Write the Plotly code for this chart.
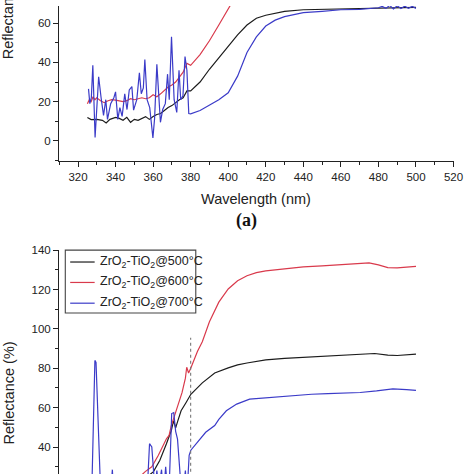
import plotly.graph_objects as go

# ---------------- Panel (a) data ----------------
a_black_x = [325, 327, 330, 333, 335, 337, 340, 342, 344, 346, 348, 350, 352, 354, 356, 358, 360,
             362, 364, 366, 368, 370, 372, 374, 376, 378, 380, 385, 390, 395, 400, 405, 410, 415,
             420, 425, 430, 440, 450, 460, 470, 480, 490, 500]
a_black_y = [12, 10.9, 11, 10.5, 9.2, 11, 12, 11.5, 10.5, 12, 9.5, 11, 10.5, 11.5, 12.4, 11, 12.5,
             13.5, 14, 15.5, 17, 18, 19.5, 21, 22, 25.5, 25.5, 30, 36.5, 42.5, 48.5, 54, 59, 62.5,
             64, 65, 66, 66.8, 67, 67.2, 67.3, 67.8, 68, 68]

a_red_x = [325, 326, 327, 328, 329, 330, 332, 334, 336, 338, 340, 342, 344, 346, 348, 350, 352, 354,
           356, 358, 360, 362, 364, 366, 368, 370, 372, 374, 376, 378, 380, 385, 390, 395, 400, 405,
           410, 420, 440, 460, 480, 500]
a_red_y = [19, 21, 20, 22.5, 21, 22, 20.5, 19.5, 20.5, 21, 20.8, 20.5, 20, 20.5, 21.5, 21, 21.5, 22,
           21.5, 22, 23.5, 22.5, 24, 26, 27.5, 28.5, 30, 32.5, 35, 39.5, 38.5, 44, 51, 59, 67.5, 76,
           85, 100, 115, 118, 119, 118]

a_blue_x = [325.6, 326.3, 327.1, 327.9, 329.1, 331.0, 332.3, 333.6, 334.8, 335.7, 337.4, 339.1, 340.0,
            341.2, 342.3, 343.5, 344.9, 346.1, 347.3, 348.7, 349.6, 351.3, 352.7, 353.7, 354.8, 355.6,
            356.8, 358.2, 359.9, 360.8, 362.0, 363.9, 365.1, 366.5, 367.7, 368.6, 369.8, 371.2, 372.6,
            373.8, 374.7, 375.9, 377.0, 378.0, 379.0, 380, 385, 390, 395, 400, 405, 410, 415, 420,
            425, 430, 435, 440, 450, 460, 470, 480, 482, 484, 486, 488, 490, 492, 494, 496, 498, 500]
a_blue_y = [26.5, 19, 22, 38.5, 1.8, 32.7, 22, 13, 21, 11, 19, 22, 25,
            11, 17, 12.5, 24, 16, 26, 27.7, 15.7, 21, 34.7, 24, 27, 41.5,
            21, 17, 1.5, 11.5, 39, 9.5, 16, 19, 34, 21, 53, 21, 14.5,
            36, 21, 23, 43, 36, 14, 13.8, 15.5, 18.4, 21, 24.5, 33, 45, 53, 58.5,
            61.5, 63.3, 64.3, 65.3, 66, 66.8, 67, 67.8, 68.5, 67.5, 69, 67.2, 68.8, 67.4, 68.6, 67.5, 68.5, 67.5]

# ---------------- Panel (b) data ----------------
b_black_x = [325, 330, 335, 340, 345, 350, 355, 357, 360.2, 363.6, 367.1, 369.7, 370.9, 372, 373.2,
             374.9, 377.5, 380.1, 386.2, 392.8, 400, 405, 410, 415, 420, 430, 440, 450, 460, 470,
             478, 485, 490, 500]
b_black_y = [18, 19, 18, 19, 20, 21, 23, 25, 27.5, 33.3, 41.7, 48.4, 53.4, 49.7, 53.4,
             58.4, 62.5, 66.8, 72.6, 77.6, 80.2, 81.7, 82.7, 83.6, 84.3, 85, 85.5, 86, 86.4, 87,
             87.5, 86.7, 86.5, 87.2]

b_red_x = [325, 330, 335, 340, 345, 350, 353, 355.8, 359.3, 362.8, 367.1, 368.5, 369.7, 371.4, 374,
           375.4, 377.2, 377.9, 378.9, 380.1, 383.6, 386.2, 390, 395, 400, 405, 410, 415, 420, 430,
           440, 450, 460, 470, 475, 480, 485, 490, 495, 500]
b_red_y = [20, 21, 20, 21, 22, 23, 25, 27.5, 30, 35.8, 44.2, 45.9, 50.9, 55.9, 64.3,
           67.6, 75, 80.5, 77.6, 80.1, 88.5, 93.5, 103.6, 113.6, 120.3, 124.5, 127, 128.6, 129.5, 130.6,
           131.5, 132, 132.5, 133.3, 133.5, 132.5, 131.1, 131, 131.5, 131.8]

b_blue_x = [325, 326.5, 327.5, 328.3, 329.0, 329.6, 330.3, 331, 331.8, 333, 335, 337, 338.3, 339, 342,
            345, 348, 350, 352, 354, 356, 357.3, 358.1, 359.3, 360.2, 361, 362, 363, 364.5, 365.5,
            366.7, 367.5, 368.8, 369.9, 371, 372, 373, 374, 375, 376.5, 377.2, 378, 378.9, 379.2,
            380.1, 384.5, 388, 392.8, 395, 399, 404.5, 411.4, 418, 425, 435.6, 444.4, 453, 461.7,
            470.3, 479, 487.7, 495, 500]
b_blue_y = [15, 18, 24, 60, 84, 83, 62, 45, 24, 15, 18, 12, 28.5, 16, 20,
            14, 22, 15, 20, 18, 24, 26, 41.7, 40, 27, 18, 28, 19, 28.5, 15,
            30, 20, 26, 57, 57.5, 48, 44, 26, 18, 22, 28, 15, 27.5, 35.8,
            38.4, 43.4, 47.5, 50.9, 54, 58.4, 61.8, 64.3, 64.8, 65.5, 66, 66.8, 67.1, 67.3,
            67.7, 68.5, 69.5, 69.2, 68.8]

x_ticks = [320, 340, 360, 380, 400, 420, 440, 460, 480, 500, 520]
legend_labels = ["ZrO<sub>2</sub>-TiO<sub>2</sub>@500°C",
                 "ZrO<sub>2</sub>-TiO<sub>2</sub>@600°C",
                 "ZrO<sub>2</sub>-TiO<sub>2</sub>@700°C"]
cutoff_nm = 380
cutoff_top = 95.5

# ---------------- styling ----------------
W, H = 474, 474
C_BLACK, C_RED, C_BLUE = "#1c1c1c", "#d93a4c", "#3b3bc8"
FONT = "Liberation Sans, Arial, sans-serif"
LW = 1.2

def px_x(p):
    return p / W

def px_y(p):
    return 1 - p / H

fig = go.Figure()
for xs, ys, c in [(a_black_x, a_black_y, C_BLACK), (a_red_x, a_red_y, C_RED), (a_blue_x, a_blue_y, C_BLUE)]:
    fig.add_trace(go.Scatter(x=xs, y=ys, mode="lines", line=dict(color=c, width=LW),
                             xaxis="x", yaxis="y", showlegend=False))
for xs, ys, c in [(b_black_x, b_black_y, C_BLACK), (b_red_x, b_red_y, C_RED), (b_blue_x, b_blue_y, C_BLUE)]:
    fig.add_trace(go.Scatter(x=xs, y=ys, mode="lines", line=dict(color=c, width=LW),
                             xaxis="x2", yaxis="y2", showlegend=False))

xdom = [px_x(60.5), px_x(463.3)]
axis_common = dict(showline=True, linecolor="#222", linewidth=1.3, ticks="outside", ticklen=5,
                   tickwidth=1.2, tickcolor="#222", showgrid=False, zeroline=False,
                   tickfont=dict(family=FONT, size=11.5, color="#222"))

fig.update_layout(
    width=W, height=H, margin=dict(l=0, r=0, t=0, b=0),
    paper_bgcolor="white", plot_bgcolor="white", showlegend=False,
    xaxis=dict(domain=xdom, range=[310, 520], anchor="y", tickmode="array", tickvals=x_ticks,
               minor=dict(dtick=10, tick0=310, ticklen=3, ticks="outside", tickcolor="#222", tickwidth=1.1),
               **axis_common),
    yaxis=dict(domain=[px_y(156.6), 1], range=[-10, 68.7], anchor="x", tick0=0, dtick=20,
               minor=dict(dtick=10, tick0=0, ticklen=3, ticks="outside", tickcolor="#222", tickwidth=1.1),
               **axis_common),
    xaxis2=dict(domain=xdom, range=[310, 520], anchor="y2", visible=False),
    yaxis2=dict(domain=[0, px_y(247.3)], range=[26.3, 140], anchor="x2", tick0=0, dtick=20,
                minor=dict(dtick=10, tick0=0, ticklen=3, ticks="outside", tickcolor="#222", tickwidth=1.1),
                **axis_common),
)

annotations = [
    dict(text="Wavelength (nm)", x=px_x(262), y=px_y(195), xref="paper", yref="paper",
         showarrow=False, font=dict(family=FONT, size=14.5, color="#222"), xanchor="center", yanchor="middle"),
    dict(text="<b>(a)</b>", x=px_x(252), y=px_y(217), xref="paper", yref="paper",
         showarrow=False, font=dict(family="Liberation Serif, Times New Roman, serif", size=18, color="#111"),
         xanchor="center", yanchor="middle"),
    dict(text="Reflectance (%)", x=px_x(9), y=px_y(391.7), xref="paper", yref="paper", textangle=-90,
         showarrow=False, font=dict(family=FONT, size=14.5, color="#222"), xanchor="center", yanchor="middle"),
    dict(text="Reflectance (%)", x=px_x(9), y=px_y(1.5), xref="paper", yref="paper", textangle=-90,
         showarrow=False, font=dict(family=FONT, size=14.5, color="#222"), xanchor="center", yanchor="middle"),
]

shapes = [
    dict(type="line", xref="x2", yref="y2", x0=cutoff_nm, x1=cutoff_nm, y0=0, y1=cutoff_top,
         line=dict(color="#777", width=1.1, dash="dot")),
    dict(type="rect", xref="paper", yref="paper", x0=px_x(66.7), x1=px_x(200), y0=px_y(311), y1=px_y(247.3),
         line=dict(color="#444", width=1.1), fillcolor="white", layer="above"),
]
row_y = [259.3, 280, 301]
for lbl, c, ry in zip(legend_labels, [C_BLACK, C_RED, C_BLUE], row_y):
    shapes.append(dict(type="line", xref="paper", yref="paper", x0=px_x(71.7), x1=px_x(96.7),
                       y0=px_y(ry), y1=px_y(ry), line=dict(color=c, width=LW), layer="above"))
    annotations.append(dict(text=lbl, x=px_x(100), y=px_y(ry), xref="paper", yref="paper",
                            showarrow=False, xanchor="left", yanchor="middle",
                            font=dict(family=FONT, size=12.5, color="#222")))

fig.update_layout(annotations=annotations, shapes=shapes)
fig.write_html("out.html")
